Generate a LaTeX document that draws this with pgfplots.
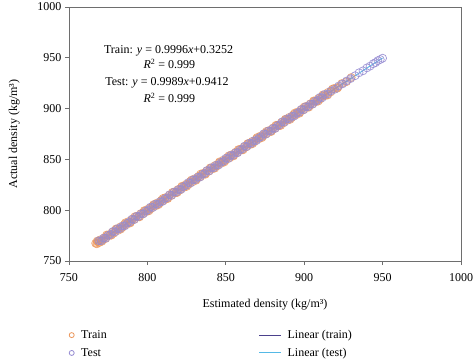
\documentclass[border=0pt]{standalone}
\usepackage{fontspec}
\setmainfont{Liberation Serif}
\usepackage{pgfplots}
\pgfplotsset{compat=1.18}
\definecolor{trainc}{RGB}{236,150,90}
\definecolor{testc}{RGB}{150,140,210}
\definecolor{lintrain}{RGB}{75,65,140}
\definecolor{lintest}{RGB}{85,185,230}
\definecolor{axc}{RGB}{110,110,110}
\begin{document}
\begin{tikzpicture}
\begin{axis}[
  at={(0,0)}, anchor=south west,
  scale only axis, width=392pt, height=254pt,
  xmin=750, xmax=1000, ymin=750, ymax=1000,
  xtick={750,800,...,1000}, ytick={750,800,...,1000},
  tick pos=left, tick align=outside,
  major tick length=4pt,
  axis line style={axc, line width=0.9pt},
  tick style={axc, line width=0.9pt},
  /pgf/number format/assume math mode=true,
  /pgf/number format/set thousands separator={},
  ticklabel style={font=\fontsize{12}{14}\selectfont},
  xticklabel style={yshift=-5pt},
  xlabel={Estimated density (kg/m³)},
  ylabel={Actual density (kg/m³)},
  label style={font=\fontsize{12}{14}\selectfont},
  xlabel style={yshift=-11pt},
  ylabel style={yshift=11pt},
  legend columns=2,
  legend style={draw=none, at={(0,0)}, anchor=north west, xshift=-3pt, yshift=-65pt,
    font=\fontsize{12}{14}\selectfont, row sep=4pt},
  legend cell align=left,
]
\addlegendimage{only marks, mark=o, mark size=2.5pt, mark options={draw=trainc, line width=0.8pt}}
\addlegendentry{\hspace*{5pt}Train\hspace*{150pt}}
\addlegendimage{lintrain, line width=0.9pt, legend image code/.code={\draw[lintrain, line width=0.9pt] (0pt,0pt) -- (22pt,0pt);}}
\addlegendentry{\hspace*{4pt}Linear (train)}
\addlegendimage{only marks, mark=o, mark size=2.5pt, mark options={draw=testc, line width=0.8pt}}
\addlegendentry{\hspace*{5pt}Test}
\addlegendimage{lintest, line width=0.9pt, legend image code/.code={\draw[lintest, line width=0.9pt] (0pt,0pt) -- (22pt,0pt);}}
\addlegendentry{\hspace*{4pt}Linear (test)}

\addplot[forget plot, only marks, mark=*, mark size=4pt,
  mark options={draw=trainc, fill=trainc, fill opacity=0.25, draw opacity=0.8, line width=0.7pt}]
coordinates {
(767.0,767.5) (767.8,766.9) (768.5,769.0) (769.3,768.2) (770.0,770.9) (771.2,770.4)
(772.5,773.0) (773.4,772.1) (774.8,775.6) (776.0,775.2) (777.5,778.3) (778.6,777.4)
(780.1,781.0) (781.3,780.2) (782.7,783.5) (784.0,783.1) (785.4,786.2) (786.5,785.6)
(788.0,788.9) (789.2,788.1) (790.6,791.4) (791.8,791.0) (793.1,794.0) (794.5,793.6)
(795.8,796.7) (797.0,796.2) (798.4,799.2) (799.7,798.8) (801.0,801.9) (802.3,801.5)
(803.6,804.4) (805.0,804.1) (806.2,807.1) (807.6,806.7) (808.9,809.8) (810.2,809.3)
(811.5,812.4) (812.8,812.0) (814.1,815.0) (815.5,814.6) (816.8,817.6) (818.0,817.2)
(819.4,820.3) (820.7,819.8) (822.0,822.9) (823.3,822.5) (824.6,825.5) (826.0,825.1)
(827.3,828.2) (828.6,827.7) (829.9,830.8) (831.2,830.4) (832.6,833.4) (833.9,833.0)
(835.2,836.1) (836.5,835.7) (837.8,838.7) (839.2,838.3) (840.5,841.4) (841.8,840.9)
(843.1,844.0) (844.4,843.6) (845.8,846.7) (847.1,846.2) (848.4,849.3) (849.7,848.9)
(851.0,851.9) (852.4,851.5) (853.7,854.6) (855.0,854.1) (856.3,857.2) (857.6,856.8)
(859.0,859.9) (860.3,859.4) (861.6,862.5) (862.9,862.1) (864.2,865.1) (865.6,864.7)
(866.9,867.8) (868.2,867.3) (869.5,870.4) (870.8,870.0) (872.2,873.1) (873.5,872.6)
(874.8,875.7) (876.1,875.3) (877.4,878.3) (878.8,877.9) (880.1,881.0) (881.4,880.5)
(882.7,883.6) (884.0,883.2) (885.4,886.3) (886.7,885.8) (888.0,888.9) (889.3,888.5)
(890.6,891.5) (892.0,891.1) (893.3,894.2) (894.6,893.7) (895.9,896.8) (897.2,896.4)
(898.6,899.5) (899.9,899.0) (901.2,902.1) (902.5,901.7) (903.8,904.7) (905.2,904.3)
(906.5,907.4) (907.8,906.9) (909.1,910.0) (910.4,909.6) (911.8,912.5) (913.5,912.8)
(915.2,916.0) (917.0,916.4) (919.0,919.8) (921.5,920.9) (924.0,924.7) (927.0,926.5)
(930.0,930.6)
(768,769.6) (771,769.4) (774,775.6) (777,775.4) (780,781.6) (783,781.4)
(786,787.6) (789,787.4) (792,793.6) (795,793.4) (798,799.6) (801,799.4)
(804,805.6) (807,805.4) (810,811.6) (813,811.4) (816,817.6) (819,817.4)
(822,823.6) (825,823.4) (828,829.6) (831,829.4) (834,835.6) (837,835.4)
(840,841.6) (843,841.4) (846,847.6) (849,847.4) (852,853.6) (855,853.4)
(858,859.6) (861,859.4) (864,865.6) (867,865.4) (870,871.6) (873,871.4)
(876,877.6) (879,877.4) (882,883.6) (885,883.4) (888,889.6) (891,889.4)
(894,895.6) (897,895.4) (900,901.6) (903,901.4) (906,907.6) (909,907.4)
(912,913.6) (915,913.4) (918,919.2) (921,920.0)
};
\addplot[forget plot, only marks, mark=*, mark size=4pt,
  mark options={draw=testc, fill=testc, fill opacity=0.25, draw opacity=0.8, line width=0.7pt}]
coordinates {
(769.0,769.9) (770.5,769.9) (772.0,772.4) (773.5,772.5) (775.0,775.2) (776.5,776.2)
(778.0,779.1) (779.5,778.7) (781.0,781.9) (782.5,781.9) (784.0,784.4) (785.5,784.5)
(787.0,787.2) (788.5,788.2) (790.0,791.1) (791.5,790.7) (793.0,793.9) (794.5,793.9)
(796.0,796.4) (797.5,796.5) (799.0,799.2) (800.5,800.2) (802.0,803.1) (803.5,802.7)
(805.0,805.9) (806.5,805.9) (808.0,808.4) (809.5,808.5) (811.0,811.2) (812.5,812.2)
(814.0,815.1) (815.5,814.7) (817.0,817.9) (818.5,817.9) (820.0,820.4) (821.5,820.5)
(823.0,823.2) (824.5,824.2) (826.0,827.1) (827.5,826.7) (829.0,829.9) (830.5,829.9)
(832.0,832.4) (833.5,832.5) (835.0,835.2) (836.5,836.2) (838.0,839.1) (839.5,838.7)
(841.0,841.9) (842.5,841.9) (844.0,844.4) (845.5,844.5) (847.0,847.2) (848.5,848.2)
(850.0,851.1) (851.5,850.7) (853.0,853.9) (854.5,853.9) (856.0,856.4) (857.5,856.5)
(859.0,859.2) (860.5,860.2) (862.0,863.1) (863.5,862.7) (865.0,865.9) (866.5,865.9)
(868.0,868.4) (869.5,868.5) (871.0,871.2) (872.5,872.2) (874.0,875.1) (875.5,874.7)
(877.0,877.9) (878.5,877.9) (880.0,880.4) (881.5,880.5) (883.0,883.2) (884.5,884.2)
(886.0,887.1) (887.5,886.7) (889.0,889.9) (890.5,889.9) (892.0,892.4) (893.5,892.5)
(895.0,895.2) (896.5,896.2) (898.0,899.1) (899.5,898.7) (901.0,901.9) (902.5,901.9)
(904.0,904.4) (905.5,904.5) (907.0,907.2) (908.5,908.2) (910.0,911.1) (911.5,910.7)
(913.0,913.9) (915.0,914.4) (917.0,917.4) (919.5,919.0) (922.0,922.3) (924.5,924.3)
(927.0,927.2) (929.5,929.5)
};
\addplot[forget plot, only marks, mark=o, mark size=4pt,
  mark options={draw=testc, draw opacity=0.9, line width=0.7pt}]
coordinates {
(932.5,932.4) (935.0,935.3) (937.5,937.2) (940.0,940.1)
(942.0,941.8) (944.0,944.2) (945.5,945.3) (947.0,947.2) (948.5,948.3) (950.0,949.6)
};
\addplot[forget plot, lintrain, line width=0.9pt] coordinates {(767,767.02) (930,929.95)};
\addplot[forget plot, lintest, line width=0.9pt] coordinates {(770,770.09) (950,949.90)};

\node[font=\fontsize{12}{14}\selectfont] at (axis cs:813.5,956.7) {Train: \textit{y} = 0.9996\textit{x}+0.3252};
\node[font=\fontsize{12}{14}\selectfont] at (axis cs:814,943.9) {\textit{R}\textsuperscript{2} = 0.999};
\node[font=\fontsize{12}{14}\selectfont] at (axis cs:812.5,925.2) {Test: \textit{y} = 0.9989\textit{x}+0.9412};
\node[font=\fontsize{12}{14}\selectfont] at (axis cs:814,910.4) {\textit{R}\textsuperscript{2} = 0.999};
\end{axis}
\pgfresetboundingbox
\path[use as bounding box] (-69pt,-99pt) rectangle (405pt,261pt);
\end{tikzpicture}
\end{document}
